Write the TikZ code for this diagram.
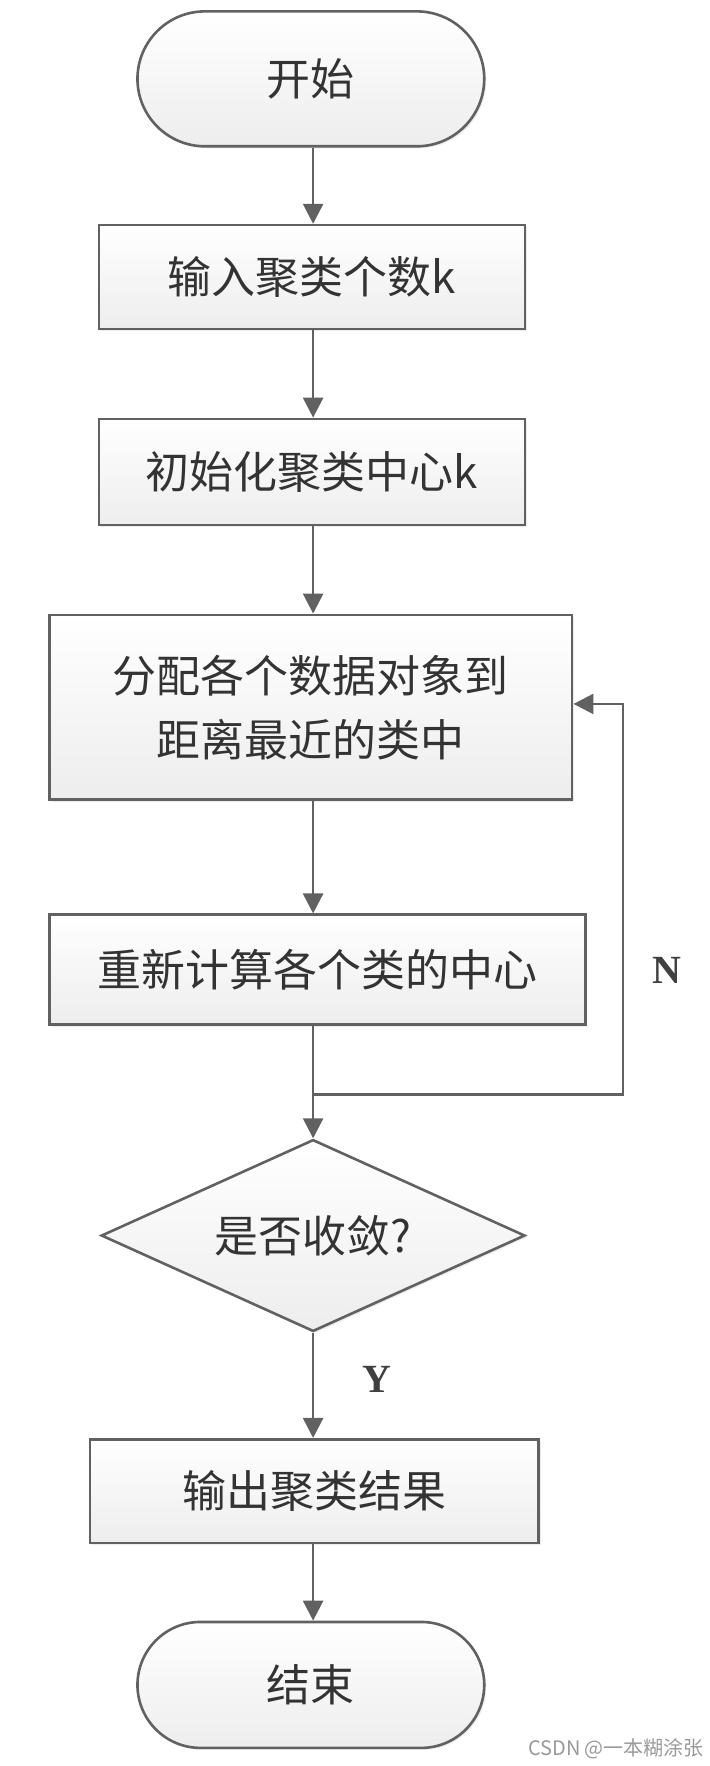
\documentclass[tikz,border=0pt]{standalone}
\usepackage{fontspec}
\setmainfont{Noto Sans CJK SC}
\newfontfamily\serifb{Liberation Serif}
\usetikzlibrary{shapes.misc,shapes.geometric,arrows.meta,shadows}
\definecolor{edge}{gray}{0.38}
\tikzset{
  base/.style={draw=edge,line width=2.6pt,top color=white,bottom color=gray!14,
    drop shadow={shadow xshift=2pt,shadow yshift=-2pt,opacity=0.15},
    font=\fontsize{44}{64}\selectfont,text=black!80,align=center,inner sep=0pt},
  proc/.style={base,rectangle},
  term/.style={base,rounded rectangle},
  dec/.style={base,diamond,aspect=2.2},
  arr/.style={draw=edge,line width=2.6pt,-{Triangle[length=20pt,width=20pt]}},
  lab/.style={font=\serifb\bfseries\fontsize{40}{40}\selectfont,text=black!75}
}
\begin{document}
\begin{tikzpicture}[x=1.127pt,y=-1.127pt]
\useasboundingbox (0,0) rectangle (630,1568);
\node[term,minimum width=347pt,minimum height=135pt] (s) at (276,70) {开始};
\node[proc,minimum width=426pt,minimum height=104pt] (b1) at (277,246) {输入聚类个数k};
\node[proc,minimum width=426pt,minimum height=106pt] (b2) at (277,419) {初始化聚类中心k};
\node[proc,minimum width=523pt,minimum height=185pt] (b3) at (276,628) {分配各个数据对象到\\距离最近的类中};
\node[proc,minimum width=536pt,minimum height=110pt] (b4) at (282,861) {重新计算各个类的中心};
\node[dec,minimum width=424pt,minimum height=192pt] (d) at (278,1097) {是否收敛?};
\node[proc,minimum width=449pt,minimum height=104pt] (b5) at (279,1324) {输出聚类结果};
\node[term,minimum width=347pt,minimum height=126pt] (e) at (276,1496) {结束};
\coordinate (j) at (278,972);
\coordinate (r1) at (553,972);
\coordinate (r2) at (553,625);
\draw[arr] (s.south -| 278,0) -- (b1.north -| 278,0);
\draw[arr] (b1.south -| 278,0) -- (b2.north -| 278,0);
\draw[arr] (b2.south -| 278,0) -- (b3.north -| 278,0);
\draw[arr] (b3.south -| 278,0) -- (b4.north -| 278,0);
\draw[arr] (b4.south -| 278,0) -- (d.north);
\draw[arr] (j) -- (r1) -- (r2) -- (r2 -| b3.east);
\draw[arr] (d.south) -- (b5.north -| 278,0);
\draw[arr] (b5.south -| 278,0) -- (e.north -| 278,0);
\node[lab] (n) at (592,862) {N};
\node[lab] (y) at (335,1225) {Y};
\node[font=\fontsize{20}{20}\selectfont,text=gray!80,anchor=east] (w) at (628,1553) {CSDN @一本糊涂张};
\end{tikzpicture}
\end{document}
